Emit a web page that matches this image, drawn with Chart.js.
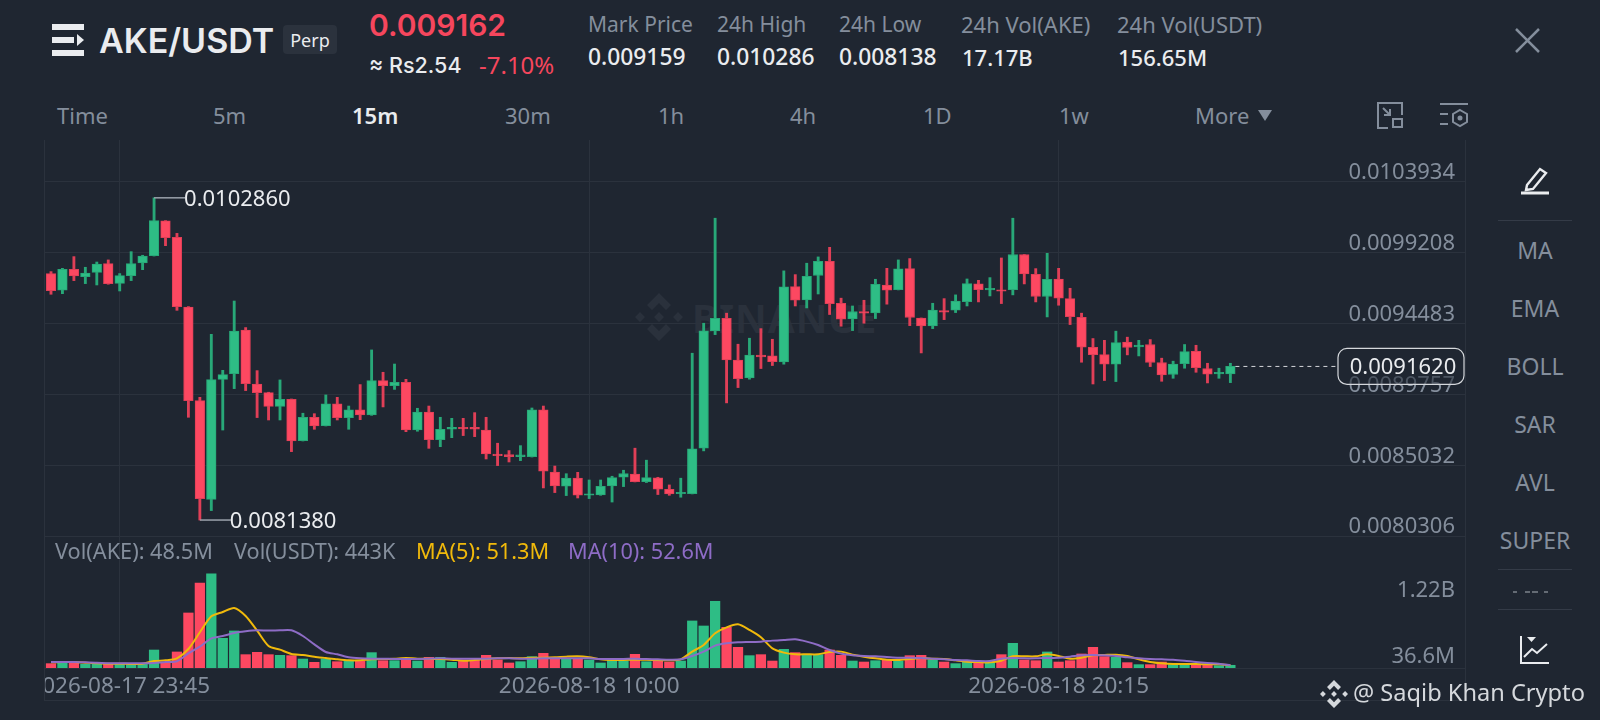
<!DOCTYPE html>
<html>
<head>
<meta charset="utf-8">
<title>AKE/USDT</title>
<script src="https://cdn.jsdelivr.net/npm/chart.js@4"></script>
<style>
  html, body { margin: 0; padding: 0; background: #1f2631; }
  body { width: 1600px; height: 720px; position: relative; overflow: hidden; font-family: "Noto Sans", sans-serif; }
  .t { position: absolute; transform: translateY(-50%); white-space: nowrap; line-height: 1; color: #848e9c; font-size: 22px; }
  .c { transform: translate(-50%, -50%); font-size: 23px; }
  .w { color: #eaecef; }
  .r { color: #f6465d; }
  .sep { position: absolute; left: 1498px; width: 74px; height: 1px; background: #343b47; }
  svg { position: absolute; }
  #frame { position: absolute; left: 44px; top: 140px; width: 1420px; height: 560px; border: 1px solid #2b323d; border-top: 0; }
  #wrap { position: absolute; left: 45px; top: 140px; width: 1420px; height: 560px; }
</style>
</head>
<body>

<!-- header -->
<svg style="left:52px;top:24px" width="32" height="32" viewBox="0 0 32 32" fill="#eaecef">
  <rect width="32" height="6"/><rect y="13" width="22" height="6"/><rect y="26" width="32" height="6"/><path d="M25 10l7 6-7 6z"/>
</svg>
<span class="t w" style="left:99px;top:40px;font:600 34px Inter">AKE/USDT</span>
<div style="position:absolute;left:283px;top:25px;width:54px;height:29px;background:#2b323d;border-radius:4px"></div>
<span class="t c w" style="left:310px;top:40px;font-size:18px">Perp</span>
<span class="t r" style="left:369px;top:25px;font:600 30px Inter">0.009162</span>
<span class="t w" style="left:369px;top:65px;font:500 21.500px Inter">≈ Rs2.54</span>
<span class="t r" style="left:479px;top:65px;font-size:24px">-7.10%</span>

<span class="t" style="left:588px;top:24px;font-size:21px">Mark Price</span>
<span class="t" style="left:717px;top:24px;font-size:21px">24h High</span>
<span class="t" style="left:839px;top:24px;font-size:21px">24h Low</span>
<span class="t" style="left:961px;top:24px">24h Vol(AKE)</span>
<span class="t" style="left:1117px;top:24px">24h Vol(USDT)</span>
<span class="t w" style="left:588px;top:57px;font-size:22.800px;font-weight:500">0.009159</span>
<span class="t w" style="left:717px;top:57px;font-size:22.800px;font-weight:500">0.010286</span>
<span class="t w" style="left:839px;top:57px;font-size:22.800px;font-weight:500">0.008138</span>
<span class="t w" style="left:962px;top:57px;font-weight:500">17.17B</span>
<span class="t w" style="left:1118px;top:57px;font-weight:500">156.65M</span>

<svg style="left:1515px;top:28px" width="25" height="25" stroke="#848e9c" stroke-width="2.500"><path d="M1 1L24 24M24 1L1 24"/></svg>

<!-- interval row -->
<span class="t" style="left:57px;top:115px">Time</span>
<span class="t" style="left:213px;top:115px">5m</span>
<span class="t w" style="left:352px;top:115px;font-weight:600">15m</span>
<span class="t" style="left:505px;top:115px">30m</span>
<span class="t" style="left:658px;top:115px">1h</span>
<span class="t" style="left:790px;top:115px">4h</span>
<span class="t" style="left:923px;top:115px">1D</span>
<span class="t" style="left:1059px;top:115px">1w</span>
<span class="t" style="left:1195px;top:115px">More</span>
<svg style="left:1258px;top:110px" width="14" height="11" fill="#848e9c"><path d="M0 0h14l-7 11z"/></svg>
<svg style="left:1376px;top:101px" width="28" height="28" fill="none" stroke="#848e9c" stroke-width="2">
  <path d="M12 27H2V2h24v12M7 7l7 7M14 8v6H8"/><rect x="17" y="18" width="9" height="8"/>
</svg>
<svg style="left:1440px;top:102px" width="29" height="26" fill="none" stroke="#848e9c" stroke-width="2">
  <path d="M0 2h28M0 12h8M0 22h8"/><path d="M20 8l7 4v8l-7 4-7-4v-8z"/><circle cx="20" cy="16" r="1.500" fill="#848e9c"/>
</svg>

<!-- right tool panel -->
<svg style="left:1520px;top:165px" width="30" height="30" fill="none" stroke="#eaecef" stroke-width="2.400">
  <path d="M7 20L20 4l6 4-13 16-7 1z"/><path d="M1 28h28" stroke-width="3"/>
</svg>
<div class="sep" style="top:220px"></div>
<span class="t c" style="left:1535px;top:250px">MA</span>
<span class="t c" style="left:1535px;top:308px">EMA</span>
<span class="t c" style="left:1535px;top:366px">BOLL</span>
<span class="t c" style="left:1535px;top:424px">SAR</span>
<span class="t c" style="left:1535px;top:482px">AVL</span>
<span class="t c" style="left:1535px;top:540px">SUPER</span>
<div class="sep" style="top:569px"></div>
<svg style="left:1512px;top:590px" width="42" height="4" stroke="#aab0b8" stroke-width="1"><path d="M1 2h4M13 2h5M20 2h6M32 2h4"/></svg>
<div class="sep" style="top:609px"></div>
<svg style="left:1520px;top:635px" width="30" height="30" fill="none" stroke="#eaecef" stroke-width="2">
  <path d="M1 1v27h28M4 22l8-8 5 4 10-9"/><path d="M7 2h9l-4.500 5z" fill="#eaecef" stroke="none"/>
</svg>

<!-- watermark under the candles -->
<svg style="left:635px;top:293px" width="48" height="48" viewBox="0 0 48 48" fill="#2a313c">
  <path d="M24 0l12 12-5 5-7-7-7 7-5-5zM24 48L12 36l5-5 7 7 7-7 5 5zM0 24l5-5 5 5-5 5zM38 24l5-5 5 5-5 5zM24 19l5 5-5 5-5-5z"/>
</svg>
<span class="t" style="left:692px;top:317px;font:700 39px 'Noto Sans';color:#2a313c;letter-spacing:1px">BINANCE</span>

<div id="frame"></div>
<div id="wrap"><canvas id="canvas"></canvas></div>

<span class="t" style="left:55px;top:551px;font-size:21.700px">Vol(AKE): 48.5M</span>
<span class="t" style="left:234px;top:551px;font-size:21.700px">Vol(USDT): 443K</span>
<span class="t" style="left:416px;top:551px;font-size:21.700px;color:#f0b90b">MA(5): 51.3M</span>
<span class="t" style="left:568px;top:551px;font-size:21.700px;color:#8e6cc6">MA(10): 52.6M</span>

<!-- credit -->
<svg style="left:1320px;top:680px" width="28" height="28" viewBox="0 0 48 48" fill="#d5d8dc">
  <path d="M24 0l12 12-5 5-7-7-7 7-5-5zM24 48L12 36l5-5 7 7 7-7 5 5zM0 24l5-5 5 5-5 5zM38 24l5-5 5 5-5 5zM24 19l5 5-5 5-5-5z"/>
</svg>
<span class="t" style="left:1353px;top:693px;font-size:23.600px;color:#d5d8dc">@ Saqib Khan Crypto</span>

<script>
// candles
var opens = [0.009781,0.009670,0.009810,0.009761,0.009789,0.009847,0.009716,0.009767,0.009852,0.009901,
  0.010132,0.010023,0.009558,0.008934,0.008276,0.009076,0.009114,0.009405,0.009045,0.008987,
  0.008896,0.008943,0.008667,0.008823,0.008767,0.008912,0.008821,0.008872,0.008838,0.009067,
  0.009034,0.009056,0.008738,0.008858,0.008674,0.008743,0.008756,0.008756,0.008738,0.008578,
  0.008574,0.008561,0.008561,0.008872,0.008458,0.008363,0.008418,0.008303,0.008305,0.008365,
  0.008423,0.008445,0.008394,0.008419,0.008343,0.008314,0.008314,0.008617,0.009399,0.009483,
  0.009205,0.009085,0.009237,0.009232,0.009192,0.009694,0.009605,0.009768,0.009863,0.009583,
  0.009479,0.009528,0.009519,0.009705,0.009674,0.009814,0.009485,0.009432,0.009534,0.009537,
  0.009594,0.009712,0.009672,0.009672,0.009674,0.009908,0.009776,0.009628,0.009745,0.009614,
  0.009490,0.009290,0.009241,0.009177,0.009325,0.009292,0.009308,0.009188,0.009108,0.009181,
  0.009263,0.009148,0.009112,0.009112];
var closes = [0.009667,0.009810,0.009765,0.009785,0.009845,0.009714,0.009767,0.009847,0.009898,0.010134,
  0.010021,0.009561,0.008934,0.008281,0.009074,0.009107,0.009398,0.009047,0.008987,0.008896,
  0.008943,0.008665,0.008823,0.008765,0.008912,0.008821,0.008872,0.008838,0.009067,0.009034,
  0.009056,0.008738,0.008858,0.008674,0.008743,0.008756,0.008745,0.008743,0.008578,0.008567,
  0.008561,0.008572,0.008872,0.008463,0.008365,0.008418,0.008303,0.008312,0.008363,0.008421,
  0.008448,0.008394,0.008421,0.008343,0.008312,0.008323,0.008612,0.009399,0.009483,0.009205,
  0.009081,0.009237,0.009225,0.009194,0.009692,0.009603,0.009763,0.009863,0.009581,0.009477,
  0.009528,0.009517,0.009710,0.009670,0.009812,0.009488,0.009432,0.009537,0.009523,0.009597,
  0.009714,0.009674,0.009683,0.009663,0.009908,0.009779,0.009628,0.009743,0.009617,0.009494,
  0.009290,0.009241,0.009177,0.009321,0.009288,0.009305,0.009188,0.009105,0.009177,0.009261,
  0.009154,0.009110,0.009123,0.009162];
var highs = [0.009794,0.009816,0.009894,0.009823,0.009858,0.009872,0.009781,0.009927,0.009903,0.010286,
  0.010134,0.010049,0.009561,0.008956,0.009376,0.009136,0.009598,0.009421,0.009134,0.008990,
  0.009072,0.008945,0.008850,0.008847,0.008972,0.008956,0.008898,0.009041,0.009272,0.009123,
  0.009178,0.009076,0.008883,0.008898,0.008823,0.008816,0.008816,0.008854,0.008823,0.008650,
  0.008601,0.008634,0.008885,0.008898,0.008498,0.008447,0.008456,0.008405,0.008405,0.008430,
  0.008470,0.008617,0.008537,0.008423,0.008372,0.008417,0.009250,0.009450,0.010150,0.009517,
  0.009310,0.009350,0.009414,0.009343,0.009799,0.009774,0.009850,0.009892,0.009956,0.009617,
  0.009565,0.009603,0.009743,0.009816,0.009872,0.009881,0.009485,0.009583,0.009614,0.009639,
  0.009745,0.009736,0.009754,0.009885,0.010150,0.009908,0.009814,0.009916,0.009816,0.009683,
  0.009517,0.009348,0.009336,0.009397,0.009357,0.009336,0.009341,0.009217,0.009197,0.009308,
  0.009303,0.009183,0.009150,0.009183];
var lows = [0.009643,0.009647,0.009734,0.009714,0.009705,0.009710,0.009665,0.009734,0.009807,0.009898,
  0.009967,0.009536,0.008823,0.008138,0.008201,0.008738,0.009014,0.009001,0.008821,0.008805,
  0.008805,0.008594,0.008665,0.008743,0.008765,0.008805,0.008743,0.008807,0.008836,0.008892,
  0.009009,0.008727,0.008730,0.008616,0.008627,0.008687,0.008701,0.008694,0.008545,0.008501,
  0.008525,0.008534,0.008558,0.008352,0.008321,0.008301,0.008285,0.008281,0.008303,0.008258,
  0.008361,0.008392,0.008388,0.008308,0.008303,0.008290,0.008312,0.008599,0.009374,0.008919,
  0.009021,0.009077,0.009148,0.009168,0.009177,0.009565,0.009552,0.009645,0.009508,0.009430,
  0.009401,0.009450,0.009481,0.009577,0.009672,0.009434,0.009252,0.009414,0.009474,0.009521,
  0.009565,0.009592,0.009632,0.009581,0.009639,0.009712,0.009592,0.009492,0.009570,0.009441,
  0.009190,0.009045,0.009068,0.009061,0.009239,0.009232,0.009161,0.009063,0.009083,0.009150,
  0.009123,0.009052,0.009083,0.009054];

// volume and its averages, in millions
var volumes = [78,84,84,66,66,66,66,60,72,322,90,287,985,1522,1684,531,663,239,281,239,
  227,221,161,101,167,113,125,131,275,131,131,137,125,191,191,101,143,143,227,143,
  90,113,203,263,167,167,167,143,90,137,125,245,113,143,107,125,842,752,1194,728,
  370,221,239,125,334,275,233,239,322,227,125,107,131,155,125,221,227,149,107,78,
  119,113,96,239,442,143,131,287,107,131,251,370,203,191,96,60,60,107,60,60,
  54,54,42,48.5];
var ma5 = [101,107,107,96,84,78,78,72,78,125,137,173,340,639,925,1003,1075,931,669,394,
  328,251,233,203,179,155,137,137,155,161,167,179,167,167,161,149,131,143,161,173,
  179,173,185,185,191,203,209,191,155,143,143,149,149,143,137,155,293,412,621,728,
  782,681,549,352,275,245,245,245,287,293,239,203,173,149,143,161,179,167,161,137,
  113,107,101,131,209,209,209,245,215,167,185,227,233,239,215,155,107,84,72,72,
  72,66,66,51.3];
var ma10 = [107,107,107,101,96,84,84,84,84,90,107,119,263,382,531,573,627,657,675,669,
  675,675,573,424,287,245,191,173,167,167,161,161,161,167,173,167,167,167,167,173,
  173,167,167,173,173,173,173,173,161,161,161,167,161,155,149,155,215,293,400,442,
  460,466,472,490,501,513,472,412,322,257,227,215,209,197,185,185,179,167,155,143,
  137,125,125,167,179,173,173,179,185,203,227,233,227,215,191,173,161,155,149,131,
  107,90,78,52.6];

// axis ticks
var priceTicks = [0.0103934,0.0099208,0.0094483,0.0089757,0.0085032,0.0080306];
var volTicks = [36.6,1220];
var volTickLabels = ['36.6M','1.22B'];
var timeTicks = [6,47,88];
var timeLabels = ['2026-08-17 23:45','2026-08-18 10:00','2026-08-18 20:15'];

var green = '#2ebd85', greenDark = '#28a878', red = '#fd4861', redDark = '#e03f57';
var gridColor = '#2b323d', tickFont = {family:'"Noto Sans"', size:22};

var isUp = closes.map(function(c, i) { return c >= opens[i]; });
var wicks = [], bodies = [], volBars = [], ma5Line = [], ma10Line = [];
for (let i = 0; i < opens.length; i++) {
  wicks.push({x:i, y:[lows[i], highs[i]]});
  bodies.push({x:i, y:[opens[i], closes[i]]});
  volBars.push({x:i, y:volumes[i]});
  ma5Line.push({x:i, y:ma5[i]});
  ma10Line.push({x:i, y:ma10[i]});
}
var upColors = function(a, b) { return isUp.map(function(u) { return u ? a : b; }); };

// high / low notes and the last price tag
var notes = {
  id: 'notes',
  afterDatasetsDraw: function(chart) {
    var c = chart.ctx, x = chart.scales.x, y = chart.scales.y;
    var hi = highs.indexOf(Math.max.apply(null, highs));
    var lo = lows.indexOf(Math.min.apply(null, lows));
    var last = closes.length - 1;
    c.save();
    c.font = '22px "Noto Sans"';
    c.textBaseline = 'middle';
    c.textAlign = 'left';
    c.lineWidth = 1.5;
    c.strokeStyle = '#9aa1ab';
    [[hi, highs[hi]], [lo, lows[lo]]].forEach(function(n) {
      var px = x.getPixelForValue(n[0]), py = y.getPixelForValue(n[1]);
      c.beginPath(); c.moveTo(px, py); c.lineTo(px + 31, py); c.stroke();
      c.fillStyle = '#eaecef';
      c.fillText(n[1].toFixed(7), px + 30, py + 2);
    });
    var ly = y.getPixelForValue(closes[last]), right = chart.chartArea.right;
    c.setLineDash([4, 4]);
    c.strokeStyle = '#d5d8dc';
    c.lineWidth = 1;
    c.beginPath(); c.moveTo(x.getPixelForValue(last) + 5, ly); c.lineTo(right - 127, ly); c.stroke();
    c.setLineDash([]);
    c.beginPath();
    c.roundRect(right - 127, ly - 18, 126, 36, 9);
    c.fillStyle = 'rgba(31,38,49,0.55)';
    c.fill();
    c.strokeStyle = '#d5d8dc';
    c.lineWidth = 1.2;
    c.stroke();
    c.fillStyle = '#eaecef';
    c.textAlign = 'center';
    c.fillText(closes[last].toFixed(7), right - 62, ly + 1);
    c.restore();
  }
};

Chart.defaults.animation = false;

new Chart(document.getElementById('canvas'), {
  type: 'bar',
  data: {
    datasets: [
      {type:'line', data:ma5Line, yAxisID:'vol', borderColor:'#f0b90b', borderWidth:2, pointRadius:0, tension:0.25, order:1},
      {type:'line', data:ma10Line, yAxisID:'vol', borderColor:'#8e6cc6', borderWidth:2, pointRadius:0, tension:0.25, order:0},
      {data:bodies, yAxisID:'y', backgroundColor:upColors(green, red), borderColor:upColors(greenDark, redDark), borderWidth:1, borderSkipped:false, barThickness:9.6, grouped:false, order:2},
      {data:wicks, yAxisID:'y', backgroundColor:upColors(greenDark, redDark), barThickness:2.2, grouped:false, order:3},
      {data:volBars, yAxisID:'vol', backgroundColor:upColors(green, red), barThickness:9.6, grouped:false, order:4}
    ]
  },
  plugins: [notes],
  options: {
    responsive: true,
    maintainAspectRatio: false,
    layout: {padding: 0},
    plugins: {legend: {display:false}, tooltip: {enabled:false}},
    scales: {
      x: {
        type: 'linear',
        offset: false,
        min: -0.524,
        max: 123.49,
        afterBuildTicks: function(s) { s.ticks = timeTicks.map(function(v) { return {value:v}; }); },
        afterFit: function(s) { s.height = 32; s.paddingLeft = 0; s.paddingRight = 0; },
        grid: {color:gridColor, drawTicks:false, offset:false},
        border: {display:true, color:gridColor},
        ticks: {
          autoSkip: false, maxRotation: 0, padding: 5, color: '#848e9c', font: {family:'"Noto Sans"', size:22.5},
          callback: function(v) { return timeLabels[timeTicks.indexOf(v)]; }
        }
      },
      y: {
        position: 'right',
        min: 0.0071517,
        max: 0.0106714,
        afterBuildTicks: function(s) { s.ticks = priceTicks.map(function(v) { return {value:v}; }); },
        afterFit: function(s) { s.width = 0; s.paddingTop = 0; s.paddingBottom = 0; },
        grid: {color:gridColor, drawTicks:false},
        border: {display:false},
        ticks: {
          mirror: true, autoSkip: false, padding: -10, labelOffset: -9, color: '#848e9c', font: tickFont,
          callback: function(v) { return v.toFixed(7); }
        }
      },
      vol: {
        position: 'right',
        min: 0,
        max: 9451,
        afterBuildTicks: function(s) { s.ticks = volTicks.map(function(v) { return {value:v}; }); },
        afterFit: function(s) { s.width = 0; s.paddingTop = 0; s.paddingBottom = 0; },
        grid: {display:false},
        border: {display:false},
        ticks: {
          mirror: true, autoSkip: false, padding: -10, labelOffset: -9, color: '#848e9c', font: tickFont,
          callback: function(v) { return volTickLabels[volTicks.indexOf(v)]; }
        }
      }
    }
  }
});
</script>
</body>
</html>
